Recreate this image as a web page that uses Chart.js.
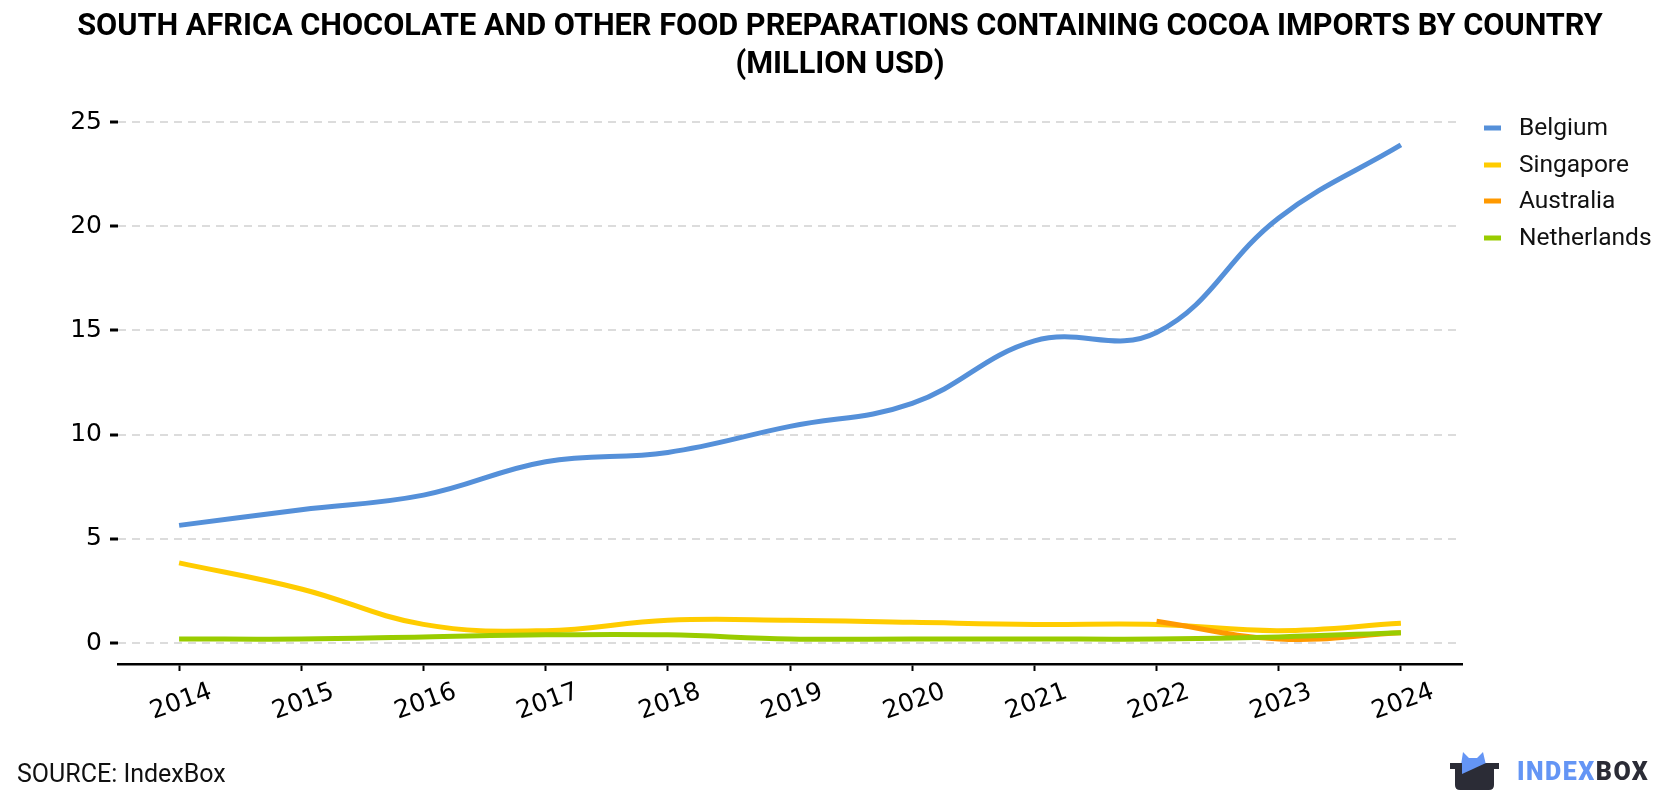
<!DOCTYPE html>
<html>
<head>
<meta charset="utf-8">
<script src="https://cdn.jsdelivr.net/npm/chart.js@4.4.1/dist/chart.umd.min.js"></script>
<style>
  html, body { margin: 0; padding: 0; background: #fff; }
  #wrap { width: 1680px; height: 800px; }
</style>
</head>
<body>
<div id="wrap"><canvas id="chart" width="1680" height="800"></canvas></div>
<script>
// data (million USD)
const years = ['2014', '2015', '2016', '2017', '2018', '2019', '2020', '2021', '2022', '2023', '2024'];
const belgium = [5.65, 6.4, 7.1, 8.7, 9.15, 10.4, 11.5, 14.5, 14.9, 20.4, 23.9];
const singapore = [3.85, 2.6, 0.9, 0.6, 1.1, 1.1, 1.0, 0.9, 0.9, 0.6, 0.95];
const australia = [null, null, null, null, null, null, null, null, 1.05, 0.2, 0.5];
const netherlands = [0.2, 0.2, 0.3, 0.4, 0.4, 0.2, 0.2, 0.2, 0.2, 0.3, 0.5];
const yTicks = [0, 5, 10, 15, 20, 25];

const titleLines = [
  'SOUTH AFRICA CHOCOLATE AND OTHER FOOD PREPARATIONS CONTAINING COCOA IMPORTS BY COUNTRY',
  '(MILLION USD)'
];

const series = [
  { label: 'Belgium', data: belgium, color: '#5590d9', order: 3 },
  { label: 'Singapore', data: singapore, color: '#ffcc00', order: 2 },
  { label: 'Australia', data: australia, color: '#ff9900', order: 1 },
  { label: 'Netherlands', data: netherlands, color: '#99cc00', order: 0 }
];

// title, legend, source and logo drawn on the canvas
const extras = {
  id: 'extras',
  afterDraw(chart) {
    const ctx = chart.ctx;
    ctx.save();

    // title
    ctx.fillStyle = '#000';
    ctx.font = 'bold 30.7px Roboto';
    ctx.textAlign = 'center';
    ctx.textBaseline = 'middle';
    ctx.fillText(titleLines[0], 840, 27);
    ctx.fillText(titleLines[1], 840, 65);

    // legend
    ctx.textAlign = 'left';
    ctx.font = '24.5px Roboto';
    const legendY = [128, 165, 201, 238];
    series.forEach((s, i) => {
      ctx.fillStyle = s.color;
      ctx.fillRect(1484, legendY[i] - 2.5, 17, 5);
      ctx.fillStyle = '#111';
      ctx.fillText(s.label, 1519, legendY[i] + 1);
    });

    // source
    ctx.font = '25px Roboto';
    ctx.fillStyle = '#111';
    ctx.fillText('SOURCE: IndexBox', 17, 776);

    // logo
    ctx.fillStyle = '#6495f5';
    ctx.beginPath();
    ctx.moveTo(1461, 765);
    ctx.lineTo(1463, 752);
    ctx.lineTo(1469, 758);
    ctx.lineTo(1477, 758);
    ctx.lineTo(1483, 752);
    ctx.lineTo(1486, 765);
    ctx.closePath();
    ctx.fill();
    ctx.fillStyle = '#2b2c36';
    ctx.beginPath();
    ctx.moveTo(1450, 763);
    ctx.lineTo(1499, 763);
    ctx.lineTo(1499, 769);
    ctx.lineTo(1494, 769);
    ctx.lineTo(1494, 785);
    ctx.quadraticCurveTo(1494, 790, 1489, 790);
    ctx.lineTo(1460, 790);
    ctx.quadraticCurveTo(1455, 790, 1455, 785);
    ctx.lineTo(1455, 769);
    ctx.lineTo(1450, 769);
    ctx.closePath();
    ctx.fill();
    ctx.fillStyle = '#6495f5';
    ctx.beginPath();
    ctx.moveTo(1462, 763);
    ctx.lineTo(1486, 763);
    ctx.lineTo(1462, 774);
    ctx.closePath();
    ctx.fill();

    ctx.font = '900 25px Roboto';
    ctx.textBaseline = 'middle';
    ctx.letterSpacing = '1.5px';
    ctx.fillStyle = '#6495f5';
    ctx.fillText('INDEX', 1517, 774);
    const w = ctx.measureText('INDEX').width;
    ctx.fillStyle = '#2b2c36';
    ctx.fillText('BOX', 1517 + w, 774);
    ctx.restore();
  }
};

new Chart(document.getElementById('chart').getContext('2d'), {
  type: 'line',
  data: {
    labels: years,
    datasets: series.map(s => ({
      label: s.label,
      data: s.data,
      borderColor: s.color,
      backgroundColor: s.color,
      borderWidth: 5,
      pointRadius: 0,
      pointHoverRadius: 0,
      tension: 0.4,
      fill: false,
      spanGaps: false,
      order: s.order
    }))
  },
  options: {
    responsive: false,
    animation: false,
    layout: { padding: { top: 122, right: 218, left: 0, bottom: 0 } },
    plugins: {
      legend: { display: false },
      title: { display: false },
      tooltip: { enabled: false }
    },
    scales: {
      x: {
        type: 'category',
        offset: true,
        afterFit: s => { s.height = 136; },
        grid: {
          offset: false,
          drawOnChartArea: false,
          drawTicks: true,
          tickLength: 7,
          tickColor: '#000',
          tickWidth: 2
        },
        border: { display: true, color: '#000', width: 2.5 },
        ticks: {
          color: '#000',
          font: { family: 'DejaVu Sans', size: 25 },
          minRotation: 20,
          maxRotation: 20,
          labelOffset: 32,
          padding: 6
        }
      },
      y: {
        min: -1,
        max: 25,
        afterFit: s => { s.width = 118; },
        afterBuildTicks: s => { s.ticks = yTicks.map(v => ({ value: v })); },
        grid: {
          color: '#dcdcdc',
          lineWidth: 2,
          drawTicks: true,
          tickLength: 8,
          tickColor: '#000',
          tickWidth: 3,
          tickBorderDash: []
        },
        border: { display: false, dash: [8, 6] },
        ticks: {
          color: '#000',
          font: { family: 'DejaVu Sans', size: 25 },
          padding: 8
        }
      }
    }
  },
  plugins: [extras]
});
</script>
</body>
</html>
